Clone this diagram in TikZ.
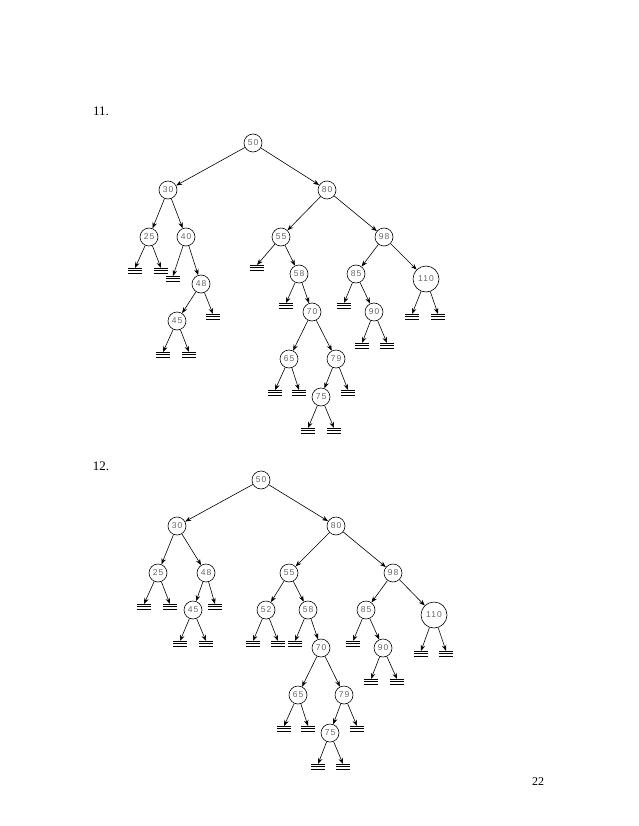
\documentclass[tikz,border=0pt]{standalone}
\usepackage{fontspec}
\setmainfont{Liberation Serif}
\newfontfamily\nfont{Liberation Sans}
\usetikzlibrary{arrows.meta}
\begin{document}
\begin{tikzpicture}[x=1pt,y=-1pt,
  bn/.style={circle,draw,line width=0.6pt,minimum size=18pt,inner sep=0pt,font=\nfont\fontsize{8.5}{9}\selectfont\addfontfeature{LetterSpace=12},text=black!60},
  big/.style={bn,minimum size=26pt},
  ed/.style={line width=0.6pt,-{Stealth[length=6pt,width=4.5pt]}},
  nl/.style={line width=0.6pt}]
\useasboundingbox (0,0) rectangle (638,826);
\newcommand\nul[3]{\coordinate (#1) at (#2,#3);
  \draw[nl] ([xshift=-7pt]#1) -- ([xshift=7pt]#1)
    ([shift={(-7pt,-2.5pt)}]#1) -- ([shift={(7pt,-2.5pt)}]#1)
    ([shift={(-7pt,-5pt)}]#1) -- ([shift={(7pt,-5pt)}]#1);}
\node[font=\fontsize{13}{14}\selectfont] (l11) at (101,111) {11.};
\node[font=\fontsize{13}{14}\selectfont] (l12) at (101,466) {12.};
\node[font=\fontsize{12}{13}\selectfont] (pg) at (538,782) {22};
% tree 11
\foreach \n/\x/\y in {50/253/143,30/168/190,80/327/190,25/149/237,40/186/237,55/281/237,98/384/237,48/201/284,58/299/274,85/356/274,45/177/321,70/312/312,90/374/312,65/289/359,79/336/359,75/321/397}
  \node[bn] (a\n) at (\x,\y) {\n};
\node[big] (a110) at (426,279) {110};
\nul{an1}{135}{268}\nul{an2}{161}{268}\nul{an3}{173}{276}\nul{an4}{213}{314}
\nul{an5}{257}{265}\nul{an6}{286}{303}\nul{an7}{344}{303}\nul{an8}{412}{314}
\nul{an9}{438}{314}\nul{an10}{163}{352}\nul{an11}{189}{352}\nul{an12}{362}{343}
\nul{an13}{387}{343}\nul{an14}{275}{390}\nul{an15}{299}{390}\nul{an16}{348}{390}
\nul{an17}{308}{428}\nul{an18}{334}{428}
\foreach \a/\b in {a50/a30,a50/a80,a30/a25,a30/a40,a80/a55,a80/a98,a25/an1,a25/an2,a40/an3,a40/a48,a48/a45,a48/an4,a55/an5,a55/a58,a58/an6,a58/a70,a98/a85,a98/a110,a85/an7,a85/a90,a110/an8,a110/an9,a45/an10,a45/an11,a90/an12,a90/an13,a70/a65,a70/a79,a65/an14,a65/an15,a79/a75,a79/an16,a75/an17,a75/an18}
  \draw[ed] (\a) -- (\b);
% tree 12
\foreach \n/\x/\y in {50/261/480,30/177/526,80/336/526,25/158/573,48/206/573,55/289/573,98/393/573,45/193/610,52/266/610,58/308/610,85/366/610,70/321/648,90/383/648,65/298/695,79/344/695,75/330/733}
  \node[bn] (b\n) at (\x,\y) {\n};
\node[big] (b110) at (434,615) {110};
\nul{bn1}{144}{604}\nul{bn2}{170}{604}\nul{bn3}{215}{604}\nul{bn4}{180}{641}
\nul{bn5}{206}{641}\nul{bn6}{253}{641}\nul{bn7}{278}{641}\nul{bn8}{295}{641}
\nul{bn9}{353}{641}\nul{bn10}{421}{651}\nul{bn11}{446}{651}\nul{bn12}{371}{679}
\nul{bn13}{397}{679}\nul{bn14}{284}{726}\nul{bn15}{308}{726}\nul{bn16}{357}{726}
\nul{bn17}{318}{764}\nul{bn18}{343}{764}
\foreach \a/\b in {b50/b30,b50/b80,b30/b25,b30/b48,b80/b55,b80/b98,b25/bn1,b25/bn2,b48/b45,b48/bn3,b45/bn4,b45/bn5,b55/b52,b55/b58,b52/bn6,b52/bn7,b58/bn8,b58/b70,b98/b85,b98/b110,b85/bn9,b85/b90,b110/bn10,b110/bn11,b90/bn12,b90/bn13,b70/b65,b70/b79,b65/bn14,b65/bn15,b79/b75,b79/bn16,b75/bn17,b75/bn18}
  \draw[ed] (\a) -- (\b);
\end{tikzpicture}
\end{document}
